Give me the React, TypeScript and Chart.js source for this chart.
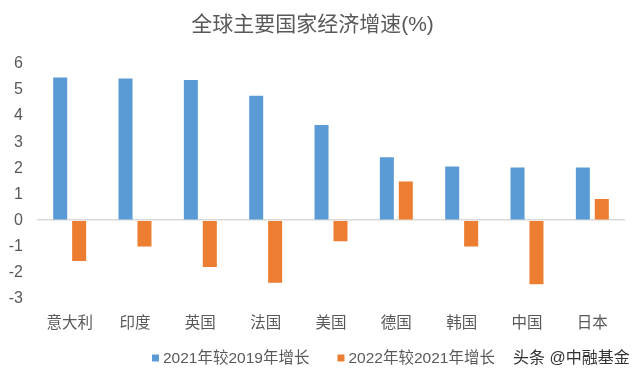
import React, { useEffect, useRef } from "react";
import { Chart, registerables } from "chart.js";

Chart.register(...registerables);

const categories = ["意大利", "印度", "英国", "法国", "美国", "德国", "韩国", "中国", "日本"];
const growth2021vs2019 = [5.48, 5.44, 5.39, 4.78, 3.66, 2.42, 2.06, 2.02, 2.02];
const growth2022vs2021 = [-1.57, -1.01, -1.8, -2.4, -0.81, 1.49, -1.01, -2.46, 0.81];
const seriesNames = ["2021年较2019年增长", "2022年较2021年增长"];
const seriesColors = ["#5B9BD5", "#ED7D31"];
const titleText = "全球主要国家经济增速(%)";
const watermark = "头条 @中融基金";

const FONT = "'Liberation Sans', 'Noto Sans CJK SC', sans-serif";
const GREY = "#595959";

export default function App() {
  const ref = useRef<HTMLCanvasElement | null>(null);
  useEffect(() => {
    if (!ref.current) return;
    const legendPlugin = {
      id: "customLegend",
      afterDraw(chart: any) {
        const ctx = chart.ctx;
        const y = 358;
        ctx.save();
        ctx.font = "15.5px " + FONT;
        ctx.textBaseline = "middle";
        ctx.textAlign = "left";
        let x = 152;
        chart.data.datasets.forEach((ds: any, i: number) => {
          ctx.fillStyle = ds.backgroundColor;
          ctx.fillRect(x, y - 3.5, 7, 7);
          x += 11;
          ctx.fillStyle = GREY;
          ctx.fillText(ds.label, x, y + 0.5);
          x += ctx.measureText(ds.label).width;
          if (i < chart.data.datasets.length - 1) x += 28;
        });
        ctx.font = "16px " + FONT;
        ctx.fillStyle = "#333333";
        ctx.fillText(watermark, 513, y + 0.5);
        ctx.restore();
      },
    };
    const chart = new Chart(ref.current, {
      type: "bar",
      data: {
        labels: categories,
        datasets: [
          {
            label: seriesNames[0],
            data: growth2021vs2019,
            backgroundColor: seriesColors[0],
            categoryPercentage: 0.58,
            barPercentage: 0.74,
          },
          {
            label: seriesNames[1],
            data: growth2022vs2021,
            backgroundColor: seriesColors[1],
            categoryPercentage: 0.58,
            barPercentage: 0.74,
          },
        ],
      },
      options: {
        animation: false,
        responsive: false,
        maintainAspectRatio: false,
        layout: { padding: { top: 0, right: 15, left: 0, bottom: 29.7 } },
        plugins: {
          title: {
            display: true,
            text: titleText,
            color: GREY,
            font: { family: FONT, size: 21, weight: "normal" },
            padding: { top: 12.4, bottom: 26.4 },
          },
          legend: { display: false },
          tooltip: { enabled: false },
        },
        scales: {
          x: {
            grid: { display: false, drawTicks: false },
            border: { display: false },
            ticks: { color: GREY, font: { family: FONT, size: 15.5 }, padding: 15.7 },
          },
          y: {
            min: -3,
            max: 6,
            afterFit(scale: any) {
              scale.width = 37;
            },
            grid: {
              drawTicks: false,
              color: (ctx: any) => (ctx.tick && ctx.tick.value === 0 ? "#d9d9d9" : "rgba(0,0,0,0)"),
              lineWidth: 1.5,
            },
            border: { display: false },
            ticks: {
              stepSize: 1,
              color: GREY,
              font: { family: FONT, size: 16 },
              padding: 14,
            },
          },
        },
      },
      plugins: [legendPlugin],
    } as any);
    return () => chart.destroy();
  }, []);
  return (
    <div style={{ position: "fixed", left: 0, top: 0, width: 640, height: 378, background: "#fff" }}>
      <canvas ref={ref} width={640} height={378} style={{ width: 640, height: 378 }} />
    </div>
  );
}
